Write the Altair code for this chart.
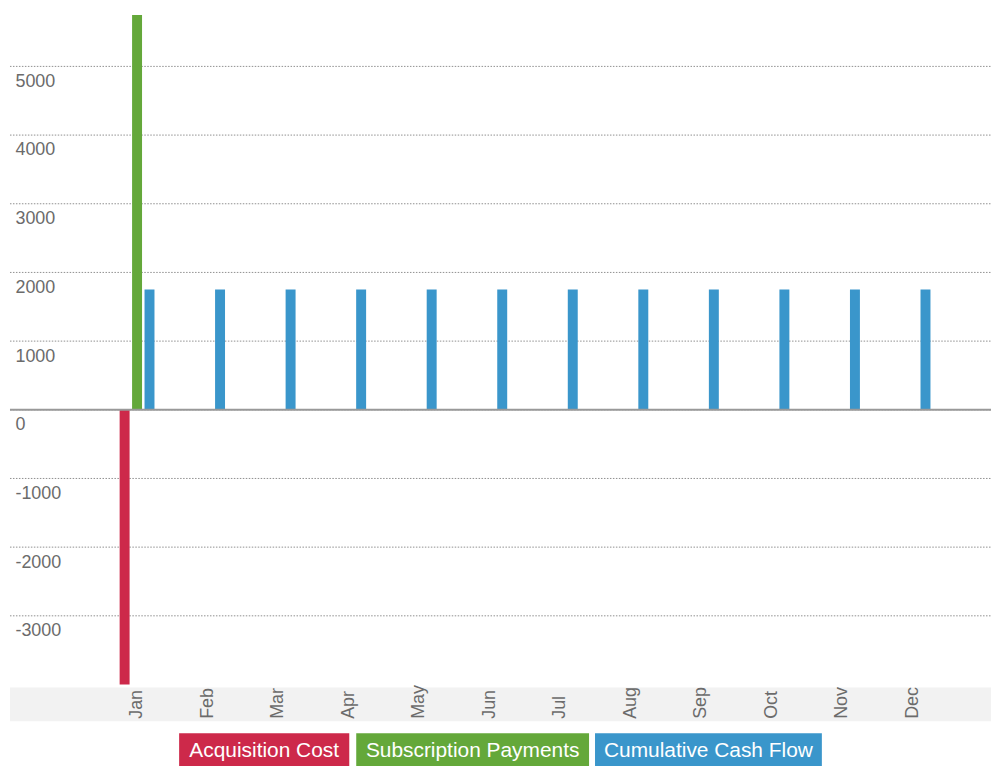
import altair as alt
import pandas as pd

# ---- data ----
MONTHS = ["Jan", "Feb", "Mar", "Apr", "May", "Jun",
          "Jul", "Aug", "Sep", "Oct", "Nov", "Dec"]
SERIES = ["Acquisition Cost", "Subscription Payments", "Cumulative Cash Flow"]
ACQUISITION_COST = [-4000, 0, 0, 0, 0, 0, 0, 0, 0, 0, 0, 0]
SUBSCRIPTION_PAYMENTS = [5750, 0, 0, 0, 0, 0, 0, 0, 0, 0, 0, 0]
CUMULATIVE_CASH_FLOW = [1750, 1750, 1750, 1750, 1750, 1750,
                        1750, 1750, 1750, 1750, 1750, 1750]
Y_TICKS = [-3000, -2000, -1000, 0, 1000, 2000, 3000, 4000, 5000]

# ---- styles / layout ----
COLORS = ["#cd294a", "#64a83a", "#3a96cb"]
FONT = "Liberation Sans, Arial, sans-serif"
LABEL_COLOR = "#6b6b6b"
W, H = 986, 673
X_RANGE = [74.75, 960.6]          # pixel span of the month bands
LEGEND_BOXES = [(170, 341), (348, 582), (588, 816)]  # pixel layout of legend chips

rows = []
for name, vals in zip(SERIES, [ACQUISITION_COST, SUBSCRIPTION_PAYMENTS, CUMULATIVE_CASH_FLOW]):
    for m, v in zip(MONTHS, vals):
        rows.append({"Month": m, "Series": name, "Value": v})
df = pd.DataFrame(rows)

y_scale = alt.Scale(domain=[-4000, 5750], nice=False, zero=True)

band = alt.Chart(alt.Data(values=[{}])).mark_rect(color="#f2f2f2").encode(
    x=alt.value(0), x2=alt.value(W), y=alt.value(H + 3), y2=alt.value(H + 37)
)

grid = alt.Chart(pd.DataFrame({"tick": Y_TICKS})).mark_rule(
    color="#8f8f8f", strokeWidth=1, strokeDash=[1.5, 1.5]
).encode(
    y=alt.Y("tick:Q", scale=y_scale),
    x=alt.value(0), x2=alt.value(W),
)

bars = alt.Chart(df).mark_bar().encode(
    x=alt.X(
        "Month:N", sort=MONTHS,
        scale=alt.Scale(domain=MONTHS, range=X_RANGE, paddingInner=0.506, paddingOuter=0.5),
        axis=alt.Axis(
            title=None, labelAngle=270, labelAlign="left", labelBaseline="middle",
            labelPadding=34, ticks=False, tickSize=0, domain=False, grid=False,
            labelFontSize=18, labelColor=LABEL_COLOR, labelFont=FONT, zindex=2,
            labelOverlap=False,
        ),
    ),
    xOffset=alt.XOffset("Series:N", sort=SERIES,
                        scale=alt.Scale(domain=SERIES, paddingInner=0.2, paddingOuter=0)),
    y=alt.Y(
        "Value:Q",
        scale=y_scale,
        axis=alt.Axis(
            title=None, values=Y_TICKS, grid=False, domain=False, ticks=False, tickSize=0,
            labelAlign="left", labelPadding=-5, labelBaseline="alphabetic", labelOffset=20,
            labelFontSize=18, labelColor=LABEL_COLOR, labelFont=FONT,
            labelExpr="datum.value + ''",
        ),
    ),
    color=alt.Color("Series:N", scale=alt.Scale(domain=SERIES, range=COLORS), legend=None),
)

zero = alt.Chart(alt.Data(values=[{}])).mark_rule(color="#999999", strokeWidth=2).encode(
    y=alt.datum(0)
)

legend_layers = []
for name, color, (x0, x1) in zip(SERIES, COLORS, LEGEND_BOXES):
    ldf = pd.DataFrame({"label": [name]})
    legend_layers.append(
        alt.Chart(ldf).mark_rect(color=color).encode(
            x=alt.value(x0), x2=alt.value(x1), y=alt.value(H + 49), y2=alt.value(H + 82)
        )
    )
    legend_layers.append(
        alt.Chart(ldf).mark_text(
            color="white", fontSize=21, font=FONT, align="center", baseline="alphabetic"
        ).encode(
            text="label:N", x=alt.value((x0 + x1) / 2), y=alt.value(H + 73)
        )
    )

chart = alt.layer(band, grid, bars, zero, *legend_layers).properties(
    width=W, height=H,
    padding={"left": 1, "top": 5, "right": 0, "bottom": 0},
    background="white",
).configure_view(stroke=None)

chart.save("out.html", embed_options={"renderer": "svg", "actions": False})
